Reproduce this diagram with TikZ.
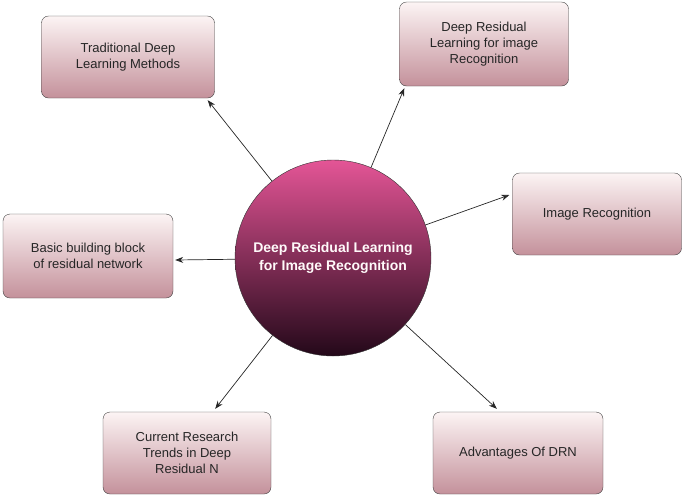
\documentclass[tikz,border=0pt]{standalone}
\usepackage{fontspec}
\setmainfont{Liberation Sans}
\usetikzlibrary{arrows.meta,calc}
\definecolor{ctop}{RGB}{228,85,150}
\definecolor{cbot}{RGB}{35,8,25}
\definecolor{btop}{RGB}{252,244,244}
\definecolor{bbot}{RGB}{196,145,155}
\tikzset{
 x=1pt,y=-1pt,
 box/.style={draw=black!75,rounded corners=7pt,minimum width=170pt,minimum height=82pt,
   top color=btop,bottom color=bbot,align=center,font=\fontsize{13}{16}\selectfont,text=black!85},
 arr/.style={-{Stealth[length=8pt,width=6pt]},black!85,line width=0.7pt}
}
\begin{document}
\begin{tikzpicture}
\useasboundingbox (0,0) rectangle (685,499);
\node[circle,draw=black!80,minimum size=196pt,top color=ctop,bottom color=cbot,
  text=white!92!pink,font=\bfseries\fontsize{14}{18}\selectfont,align=center] (c) at (333,258)
  {Deep Residual Learning\\for Image Recognition};
\node[box,minimum width=173pt] (trad) at (128,57) {Traditional Deep\\Learning Methods};
\node[box,minimum width=169pt,minimum height=84pt] (drl) at (484,44) {Deep Residual\\Learning for image\\Recognition};
\node[box,minimum width=169pt] (ir) at (597,214) {Image Recognition};
\node[box,minimum width=170pt,minimum height=84pt] (bb) at (88,256) {Basic building block\\of residual network};
\node[box,minimum width=168pt] (cr) at (187,453) {Current Research\\Trends in Deep\\Residual N};
\node[box] (adv) at (518,453) {Advantages Of DRN};
\coordinate (t1) at ($(trad.south east)+(-7,2)$);
\coordinate (t2) at ($(drl.south west)+(5,2)$);
\coordinate (t3) at ($(ir.west)+(-3,-19)$);
\coordinate (t4) at ($(bb.east)+(2,4)$);
\coordinate (t5) at ($(cr.north east)+(-56,-3)$);
\coordinate (t6) at ($(adv.north west)+(64,-3)$);
\foreach \t in {t1,t2,t3,t4,t5,t6} \draw[arr] (c) -- (\t);
\end{tikzpicture}
\end{document}
